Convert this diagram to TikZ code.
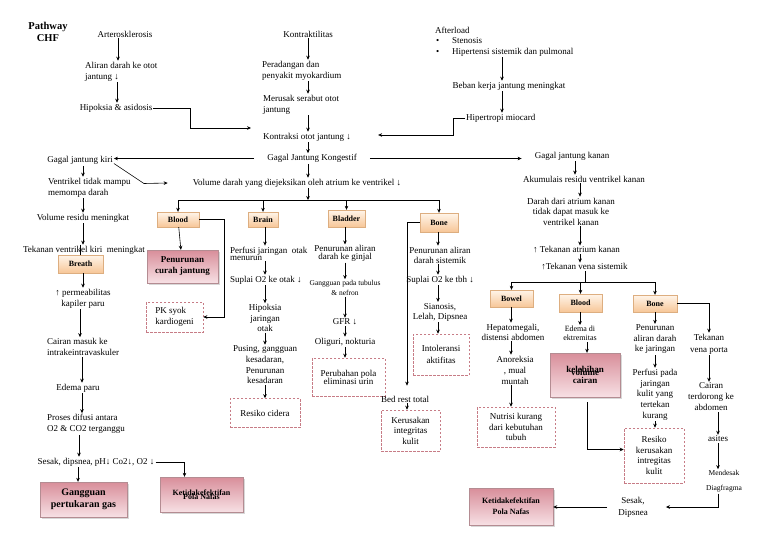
\documentclass[tikz,border=0pt]{standalone}
\usepackage{fontspec}
\setmainfont{Liberation Serif}
\usetikzlibrary{arrows.meta,shadows}
\definecolor{ob1}{HTML}{FFF5EA}
\definecolor{ob2}{HTML}{F7C697}
\definecolor{obd}{HTML}{DDAE80}
\definecolor{pb1}{HTML}{D88E9A}
\definecolor{pb2}{HTML}{F7E0E4}
\definecolor{pbd}{HTML}{B48C92}
\definecolor{dbd}{HTML}{C77C86}
\lineskiplimit=-30pt
\begin{document}
\begin{tikzpicture}[x=1pt,y=-1pt,
  tx/.style={inner sep=1pt, align=center, font=\fontsize{9}{11}\selectfont},
  tl/.style={tx, align=left},
  arr/.style={-{Stealth[length=4pt,width=3.6pt]}, line width=0.6pt},
  ln/.style={line width=0.6pt},
  obox/.style={draw=obd, line width=0.4pt, top color=ob1, bottom color=ob2, inner sep=0pt,
    font=\bfseries\fontsize{8}{9}\selectfont,
    drop shadow={opacity=0.25, shadow xshift=1pt, shadow yshift=-1pt}},
  pbox/.style={draw=pbd, line width=0.4pt, top color=pb1, bottom color=pb2, inner sep=1pt, align=center,
    font=\bfseries\fontsize{9}{11}\selectfont,
    drop shadow={opacity=0.3, shadow xshift=1.5pt, shadow yshift=-1.5pt}},
  dbox/.style={draw=dbd, dash pattern=on 2.5pt off 1.5pt, line width=0.6pt, fill=white, align=center,
    inner sep=1pt, font=\fontsize{9}{11}\selectfont}
]
\useasboundingbox[fill=white] (0,0) rectangle (768,543);

% title
\node[font=\bfseries\fontsize{10.5}{12}\selectfont, align=center, inner sep=0pt] (title) at (48,32) {Pathway\\CHF};

% top causes
\node[tx] (arter) at (125,34) {Arterosklerosis};
\node[tl, anchor=west] (aliran) at (84,71.5) {Aliran darah ke otot\\jantung ↓};
\node[tx] (hipok) at (116,108) {Hipoksia \& asidosis};
\node[tx] (kontil) at (308,34) {Kontraktilitas};
\node[tl, anchor=west] (perad) at (261,70.5) {Peradangan dan\\penyakit myokardium};
\node[tl, anchor=west] (merusak) at (262,104.5) {Merusak serabut otot\\jantung};
\node[tx, anchor=west] (kontraksi) at (262,137) {Kontraksi otot jantung ↓};
\node[tx] (gjk) at (312,158.5) {Gagal Jantung Kongestif};
\node[tx, anchor=west] (afterl) at (434,30) {Afterload};
\node[tl, anchor=west] (afterlist) at (435,46.5) {\makebox[16pt][l]{\textbullet}Stenosis\\\makebox[16pt][l]{\textbullet}Hipertensi sistemik dan pulmonal};
\node[tx] (beban) at (509,86) {Beban kerja jantung meningkat};
\node[tx, anchor=west] (hiper) at (465,118) {Hipertropi miocard};

\draw[arr] (arter.south -| 118,0) -- (aliran.north -| 118,0);
\draw[arr] (aliran.south -| 117,0) -- (hipok.north -| 117,0);
\draw[arr] (kontil.south -| 308,0) -- (perad.north -| 308,0);
\draw[arr] (perad.south -| 308,0) -- (merusak.north -| 308,0);
\draw[arr] (merusak.south -| 308,0) -- (kontraksi.north -| 308,0);
\draw[arr] (kontraksi.south -| 308,0) -- (gjk.north -| 308,0);
\draw[arr] (afterlist.south -| 502,0) -- (beban.north -| 502,0);
\draw[arr] (beban.south -| 502,0) -- (hiper.north -| 502,0);
\draw[arr] (hiper.west) -- ++(-12,0) |- ([xshift=26pt,yshift=2pt]kontraksi.east);
\draw[arr] (hipok.east) -- ++(37,0) |- ([xshift=-11pt,yshift=9pt]kontraksi.west);

% left failure
\node[tx] (gjkiri) at (80,160.5) {Gagal jantung kiri};
\node[tl, anchor=west] (ventr) at (47,187.5) {Ventrikel tidak mampu\\memompa darah};
\node[tx] (volres) at (83,218) {Volume residu meningkat};
\node[tx] (tekkiri) at (84,250) {Tekanan ventrikel kiri\ \ meningkat};
\node[obox, minimum width=45pt, minimum height=18pt] (breath) at (80.5,264) {Breath};
\node[tx] (perm) at (83,298.5) {↑ permeabilitas\\kapiler paru};
\node[tl, anchor=west] (cairan) at (46,347) {Cairan masuk ke\\intrakeintravaskuler};
\node[tx] (edema) at (78,388) {Edema paru};
\node[tl, anchor=west] (proses) at (46,424) {Proses difusi antara\\O2 \& CO2 terganggu};
\node[tx] (sesak) at (96,462) {Sesak, dipsnea, pH↓ Co2↓, O2 ↓};
\node[pbox, minimum width=87pt, minimum height=35pt, font=\bfseries\fontsize{10}{12}\selectfont] (gangg) at (83.5,499.5) {Gangguan\\pertukaran gas};
\node[pbox, minimum width=83pt, minimum height=35pt, font=\bfseries\fontsize{8}{4}\selectfont] (ketl) at (201.5,494.5) {Ketidakefektifan\\Pola Nafas};

\draw[arr, shorten <=12pt] (gjk.west) -- (gjk.west -| gjkiri.east);
\draw[arr] (gjkiri.south -| 83,0) -- (ventr.north -| 83,0);
\draw[arr] (ventr.south -| 83,0) -- (volres.north -| 83,0);
\draw[arr] (volres.south) -- (volres.south |- tekkiri.north);
\draw[ln] (tekkiri.north -| breath.north) -- (breath.north);
\draw[arr] (breath.south -| 83,0) -- (perm.north -| 83,0);
\draw[arr] (perm.south -| 80,0) -- (cairan.north -| 80,0);
\draw[arr] (cairan.south -| 82,0) -- (edema.north -| 82,0);
\draw[arr] (edema.south -| 82,0) -- (proses.north -| 82,0);
\draw[arr] (proses.south -| 79,0) -- (sesak.north -| 79,0);
\draw[arr] (sesak.south -| 78,0) -- (gangg.north -| 78,0);
\draw[arr] (sesak.east) -| ([xshift=-17pt]ketl.north);

% volume ejection
\node[tx] (volej) at (297,183) {Volume darah yang diejeksikan oleh atrium ke ventrikel ↓};
\draw[ln] ([yshift=-3pt]gjkiri.east) -- ++(30,20) coordinate (vk);
\draw[arr] (vk) -- ([xshift=-24pt]volej.west);
\draw[arr] (gjk.south -| 308,0) -- (volej.north -| 308,0);
\coordinate (barM) at (308,200);
\draw[arr] (volej.south -| barM) -- (barM);

\node[obox, minimum width=42pt, minimum height=15pt] (bloodL) at (178,219.5) {Blood};
\node[obox, minimum width=30pt, minimum height=15pt] (brain) at (263,219.5) {Brain};
\node[obox, minimum width=37pt, minimum height=17pt] (bladder) at (346.5,218.5) {Bladder};
\node[obox, minimum width=38pt, minimum height=19pt] (boneL) at (439,222.5) {Bone};
\draw[ln] (bloodL.north |- barM) -- (boneL.north |- barM);
\foreach \b in {bloodL,brain,bladder,boneL} \draw[arr] (\b.north |- barM) -- (\b.north);

% blood
\node[pbox, minimum width=71pt, minimum height=33pt] (penur) at (182.5,266.5) {Penurunan\\curah jantung};
\node[dbox, minimum width=57pt, minimum height=30pt, align=left] (pk) at (174.5,317) {PK syok\\kardiogeni};
\draw[arr] (bloodL) -- (penur);
\draw[arr] (bloodL.east) -- ++(25,0) |- (pk.east);

% brain
\node[tl, anchor=west, font=\fontsize{9}{7}\selectfont] (perf) at (229,253.5) {Perfusi jaringan\ \ otak\\menurun};
\node[tx, anchor=west] (supl) at (229,280) {Suplai O2 ke otak ↓};
\node[tx, font=\fontsize{9}{10.5}\selectfont] (hipoks) at (265,318) {Hipoksia\\jaringan\\otak};
\node[tx, font=\fontsize{9}{10.7}\selectfont] (pusing) at (265,365) {Pusing, gangguan\\kesadaran,\\Penurunan\\kesadaran};
\node[dbox, minimum width=70pt, minimum height=29pt] (rcid) at (265,413) {Resiko cidera};
\draw[arr] (brain.south -| 265,0) -- (perf.north -| 265,0);
\draw[arr] (perf.south -| 265,0) -- (supl.north -| 265,0);
\draw[arr] (supl.south -| 265,0) -- (hipoks.north -| 265,0);
\draw[arr] (hipoks.south -| 265,0) -- (pusing.north -| 265,0);
\draw[arr] (pusing.south -| 265,0) -- (rcid.north -| 265,0);

% bladder
\node[tx, font=\fontsize{9}{7.5}\selectfont] (penal) at (345,253.5) {Penurunan aliran\\darah ke ginjal};
\node[tx, font=\fontsize{7.5}{10}\selectfont] (gangtub) at (345,288) {Gangguan pada tubulus\\\& nefron};
\node[tx] (gfr) at (345,322) {GFR ↓};
\node[tx] (olig) at (345,342) {Oliguri, nokturia};
\node[dbox, minimum width=73pt, minimum height=38pt, font=\fontsize{9}{8}\selectfont] (perub) at (348.5,377) {Perubahan pola\\eliminasi urin};
\draw[arr] (bladder.south -| 345,0) -- (penal.north -| 345,0);
\draw[arr] (penal.south -| 345,0) -- (gangtub.north -| 345,0);
\draw[arr] (gangtub.south -| 345,0) -- (gfr.north -| 345,0);
\draw[arr] (gfr.south -| 345,0) -- (olig.north -| 345,0);
\draw[arr] (olig.south -| 345,0) -- (perub.north -| 345,0);

% bone (left)
\node[tx, font=\fontsize{9}{10}\selectfont] (penals) at (440,255) {Penurunan aliran\\darah sistemik};
\node[tx] (suplt) at (440,280) {Suplai O2 ke tbh ↓};
\node[tx, font=\fontsize{9}{10}\selectfont] (sian) at (440,312) {Sianosis,\\Lelah, Dipsnea};
\node[dbox, minimum width=56pt, minimum height=41pt, font=\fontsize{9}{12}\selectfont] (intol) at (441,354.5) {Intoleransi\\aktifitas};
\node[tx] (bed) at (405,399) {Bed rest total};
\node[dbox, minimum width=59pt, minimum height=41pt, font=\fontsize{9}{10.5}\selectfont] (kerus) at (410.5,430.5) {Kerusakan\\integritas\\kulit};
\draw[arr] (boneL.south -| 438,0) -- (penals.north -| 438,0);
\draw[arr] (penals.south -| 438,0) -- (suplt.north -| 438,0);
\draw[arr] (suplt.south -| 438,0) -- (sian.north -| 438,0);
\draw[arr] (sian.south -| 438,0) -- (intol.north -| 438,0);
\draw[arr, shorten >=9pt] (boneL.west) -| (bed.north -| 407,0);
\draw[arr] (bed.south -| 407,0) -- (kerus.north -| 407,0);

% right failure
\node[tx] (gjkanan) at (572,156) {Gagal jantung kanan};
\node[tx] (akum) at (584,179) {Akumulais residu ventrikel kanan};
\node[tx, font=\fontsize{9}{10.5}\selectfont] (darah) at (571,211.5) {Darah dari atrium kanan\\tidak dapat masuk ke\\ventrikel kanan};
\node[tx] (tekat) at (576.5,250) {↑ Tekanan atrium kanan};
\node[tx] (tekvs) at (584.5,267) {↑Tekanan vena sistemik};
\draw[arr, shorten >=12pt] ([xshift=12pt]gjk.east) -- (gjk.east -| gjkanan.west);
\draw[arr] (gjkanan.south -| 575,0) -- (akum.north -| 575,0);
\draw[arr] (akum.south -| 580,0) -- (darah.north -| 580,0);
\draw[arr] (darah.south -| 580,0) -- (tekat.north -| 580,0);
\draw[arr] (tekat.south -| 580,0) -- (tekvs.north -| 580,0);

\node[obox, minimum width=43pt, minimum height=17pt] (bowel) at (511.5,298.5) {Bowel};
\node[obox, minimum width=43pt, minimum height=18pt] (bloodR) at (580.5,303) {Blood};
\node[obox, minimum width=44pt, minimum height=17pt] (boneR) at (655,303.5) {Bone};
\coordinate (bar2) at (585,282);
\draw[ln] (tekvs.south -| bar2) -- (bar2);
\draw[ln] (bowel.north |- bar2) -- (boneR.north |- bar2);
\foreach \b in {bowel,bloodR,boneR} \draw[arr] (\b.north |- bar2) -- (\b.north);

% bowel
\node[tx, font=\fontsize{9}{10}\selectfont] (hepa) at (513,332) {Hepatomegali,\\distensi abdomen};
\node[tx] (anor) at (515,370) {Anoreksia\\, mual\\muntah};
\node[dbox, minimum width=78pt, minimum height=40pt, font=\fontsize{9}{10.5}\selectfont] (nutr) at (516,427) {Nutrisi kurang\\dari kebutuhan\\tubuh};
\draw[arr] (bowel.south -| 511,0) -- (hepa.north -| 511,0);
\draw[arr] (hepa.south -| 511,0) -- (anor.north -| 511,0);
\draw[arr] (anor.south -| 511,0) -- (nutr.north -| 511,0);

% blood (right)
\node[tx, font=\fontsize{8}{9}\selectfont] (edemdi) at (580,333.5) {Edema di\\ektremitas};
\node[pbox, minimum width=70pt, minimum height=44pt] (kelb) at (585,375) {\makebox[0pt]{kelebihan}\makebox[0pt]{\raisebox{-3pt}{volume}}\\cairan};
\draw[arr] (bloodR.south -| 580,0) -- (edemdi.north -| 580,0);
\draw[arr] (edemdi.south -| 587,0) -- (kelb.north -| 587,0);

% bone (right)
\node[tx, font=\fontsize{9}{10.5}\selectfont] (penalj) at (655,339.5) {Penurunan\\aliran darah\\ke jaringan};
\node[tx, font=\fontsize{9}{10.7}\selectfont] (perfk) at (655,394.5) {Perfusi pada\\jaringan\\kulit yang\\tertekan\\kurang};
\node[dbox, minimum width=60pt, minimum height=55pt, font=\fontsize{9}{10.7}\selectfont] (resk2) at (654,455.5) {Resiko\\kerusakan\\intregitas\\kulit};
\draw[arr] (boneR.south -| 655,0) -- (penalj.north -| 655,0);
\draw[arr] (penalj.south -| 655,0) -- (perfk.north -| 655,0);
\draw[arr] (perfk.south -| 655,0) -- (resk2.north -| 655,0);
\draw[arr, shorten <=5pt] (kelb.south -| 587,0) |- ([yshift=6pt]resk2.west);

% vena porta
\node[tx, font=\fontsize{9}{12}\selectfont] (tvp) at (709,344) {Tekanan\\vena porta};
\node[tx, font=\fontsize{9}{11}\selectfont] (cterd) at (711,397) {Cairan\\terdorong ke\\abdomen};
\node[tx] (asites) at (718,439) {asites};
\node[tx, font=\fontsize{7.5}{9}\selectfont] (mend) at (724,473) {Mendesak};
\node[tx, font=\fontsize{7.5}{9}\selectfont] (diaf) at (724,489) {Diagfragma};
\node[tx, font=\fontsize{9}{12}\selectfont] (sesak2) at (633,507) {Sesak,\\Dipsnea};
\node[pbox, minimum width=84pt, minimum height=37pt, font=\bfseries\fontsize{8}{11}\selectfont] (ketR) at (511,506.5) {Ketidakefektifan\\Pola Nafas};
\draw[arr] (boneR.east) -| (tvp.north);
\draw[arr] (tvp.south -| 709,0) -- (cterd.north -| 709,0);
\draw[arr] (cterd.south -| 718,0) -- (asites.north -| 718,0);
\draw[arr] (asites.south -| 718,0) -- (mend.north -| 718,0);
\draw[arr, shorten >=17pt] (diaf.south -| 718,0) |- (sesak2.east);
\draw[arr, shorten <=10pt] (sesak2.west) -- (sesak2.west -| ketR.east);
\end{tikzpicture}
\end{document}
